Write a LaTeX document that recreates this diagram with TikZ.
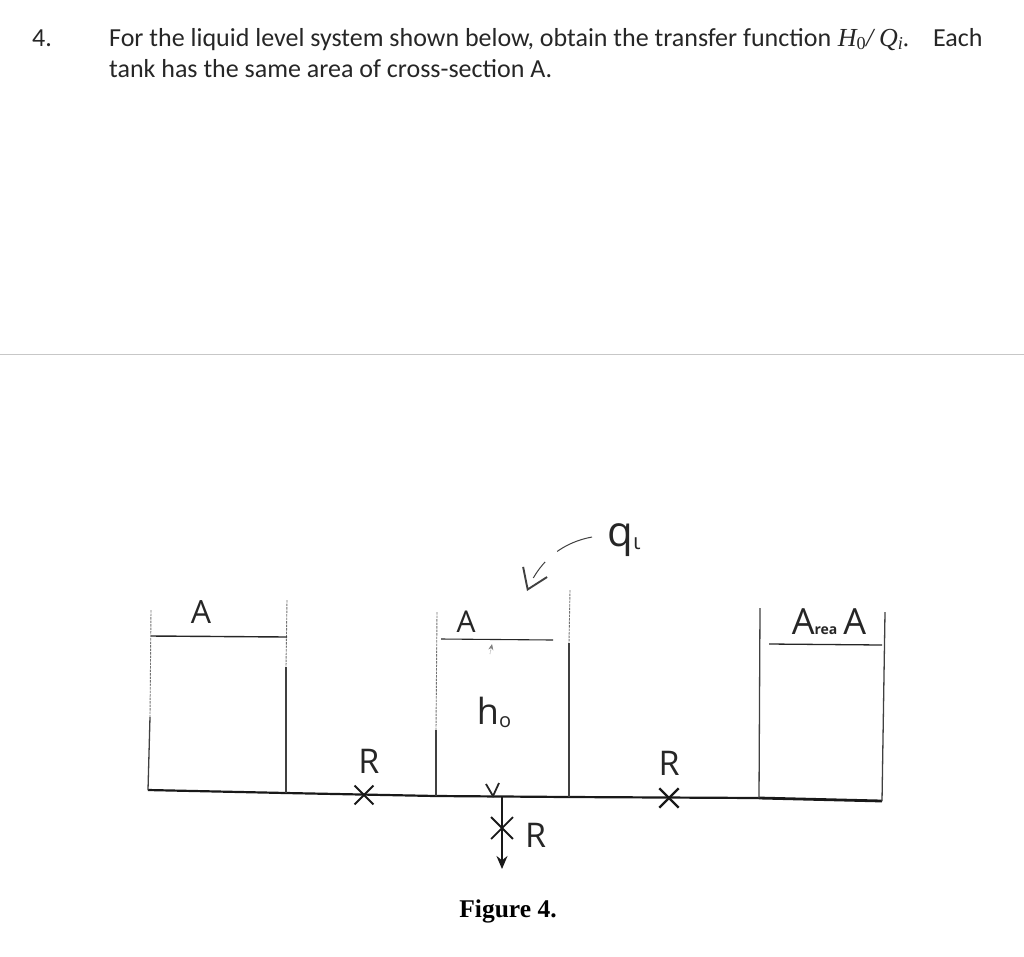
\documentclass[tikz,border=0pt]{standalone}
\usepackage{fontspec}
\usepackage{amsmath}
\setmainfont{Carlito}
\newfontfamily\handfont{Open Sans}
\newfontfamily\printfont{Liberation Serif}
\usetikzlibrary{positioning,arrows.meta,shapes.misc}

\begin{document}
\begin{tikzpicture}[
		x=1pt, y=-1pt,
		node distance=4pt,
		task/.style = {inner sep=0pt, anchor=base west, font=\fontsize{26}{26}\selectfont, text=black!85},
		hand/.style = {inner sep=0pt, font=\handfont\fontsize{34}{34}\selectfont, text=black!85},
		wall/.style = {draw=black!75, line width=1.3pt},
		faded/.style = {draw=black!55, line width=.9pt, dash pattern=on 2.5pt off 1pt},
		level/.style = {draw=black!85, line width=1.1pt},
		pipe/.style = {draw=black!90, line width=2.2pt},
		valve/.style = {draw=black!90, cross out, line width=1.8pt, minimum size=17pt, inner sep=0pt}
	]
	\useasboundingbox (0,0) rectangle (1024,956);
	% Question text.
	\node[task] (num) at (32,46) {4.};
	\node[task] (line1) at (109,46) {For the liquid level system shown below, obtain the transfer function};
	\node[task, right=6pt of line1.base east, anchor=base west] (frac) {\printfont\itshape\addfontfeature{LetterSpace=22}H\textsubscript{\upshape 0}/Q\textsubscript{i}.};
	\node[task] (each) at (933,46) {Each};
	\node[task] (line2) at (109,77) {tank has the same area of cross-section A.};
	\coordinate (ruleL) at (0,354);
	\coordinate (ruleR) at (1024,354);
	\draw[draw=black!22, line width=.8pt] (ruleL) -- (ruleR);

	% Base line.
	\coordinate (b0) at (148,790);
	\coordinate (b1) at (286,793);
	\coordinate (b2) at (436,796);
	\coordinate (b3) at (569,797);
	\coordinate (b4) at (759,798);
	\coordinate (b5) at (882,801);
	\draw[pipe] (b0) -- (b1) -- (b2) -- (b3) -- (b4);
	\draw[pipe, line width=2.8pt] (b4) -- (b5);

	% Tank 1.
	\coordinate (t1a) at (151,610);
	\coordinate (t1b) at (150,717);
	\coordinate (t1c) at (287,600);
	\coordinate (t1d) at (286,667);
	\draw[faded] (t1a) -- (t1b);
	\draw[faded] (t1c) -- (t1d);
	\draw[wall] (t1b) -- (b0);
	\draw[wall] (t1d) -- (b1);
	\coordinate (l1a) at (151,636);
	\coordinate (l1b) at (287,637);
	\draw[level, line width=1.4pt] (l1a) -- (l1b);
	\node[hand, font=\handfont\fontsize{32}{32}\selectfont] (a1) at (201,612) {A};

	% Tank 2.
	\coordinate (t2a) at (437,612);
	\coordinate (t2b) at (436,730);
	\coordinate (t2c) at (570,590);
	\coordinate (t2d) at (569,643);
	\draw[faded] (t2a) -- (t2b);
	\draw[faded] (t2c) -- (t2d);
	\draw[wall] (t2b) -- (b2);
	\draw[wall] (t2d) -- (b3);
	\coordinate (l2a) at (441,639);
	\coordinate (l2b) at (553,640);
	\draw[level] (l2a) -- (l2b);
	\node[hand, font=\handfont\fontsize{30}{30}\selectfont] (a2) at (466,622) {A};

	% Tank 3.
	\coordinate (t3a) at (760,608);
	\coordinate (t3c) at (885,612);
	\draw[wall] (t3a) -- (b4);
	\draw[wall] (t3c) -- (b5);
	\coordinate (l3a) at (769,644);
	\coordinate (l3b) at (882,645);
	\draw[level, line width=1.3pt] (l3a) -- (l3b);
	\node[hand, font=\handfont\fontsize{36}{36}\selectfont] (area) at (829,622) {A\fontsize{14}{14}\selectfont\bfseries rea\fontsize{36}{36}\selectfont\mdseries\,A};

	% Valves.
	\node[valve] (v1) at (364,795) {};
	\node[hand, above=12pt of v1, xshift=5pt] (r1) {R};
	\node[valve, line width=2.4pt] (v2) at (669,798) {};
	\node[hand, above=13pt of v2] (r2) {R};

	% Outlet.
	\coordinate (o0) at (502,797);
	\coordinate (o1) at (502,869);
	\draw[-{Stealth[length=13pt,width=11pt]}, line width=1.9pt, black!90] (o0) -- (o1);
	\node[valve, minimum size=20pt] (v3) at (502,828) {};
	\node[hand, right=12pt of v3, yshift=-7pt] (r3) {R};

	% Height mark.
	\node[hand, font=\handfont\fontsize{36}{36}\selectfont] (h) at (494,712) {h\raisebox{-3pt}{\fontsize{20}{20}\selectfont o}};
	\coordinate (up0) at (490,654);
	\coordinate (up1) at (492,644);
	\draw[-{Stealth[length=6pt,width=5pt]}, draw=black!50, line width=.7pt, densely dotted] (up0) -- (up1);
	\coordinate (dna) at (486,784);
	\coordinate (dnb) at (493,796);
	\coordinate (dnc) at (499,783);
	\draw[line width=1.8pt, black!85] (dna) -- (dnb) -- (dnc);

	% Inflow.
	\node[hand, font=\handfont\fontsize{42}{42}\selectfont] (q) at (624,540) {q\raisebox{-3pt}{\fontsize{22}{22}\selectfont ι}};
	\coordinate (qa) at (592,537);
	\coordinate (qb) at (527,591);
	\draw[-{Straight Barb[length=19pt,width=26pt,line width=1.9pt]}, draw=black!75, line width=1pt, dash pattern=on 38pt off 16pt on 20pt off 30pt]
		(qa) .. controls (565,542) and (541,558) .. (qb);

	% Caption.
	\node[inner sep=0pt, font=\printfont\bfseries\fontsize{25.5}{25.5}\selectfont, anchor=base] (fig) at (508,917) {Figure 4.};
\end{tikzpicture}
\end{document}
